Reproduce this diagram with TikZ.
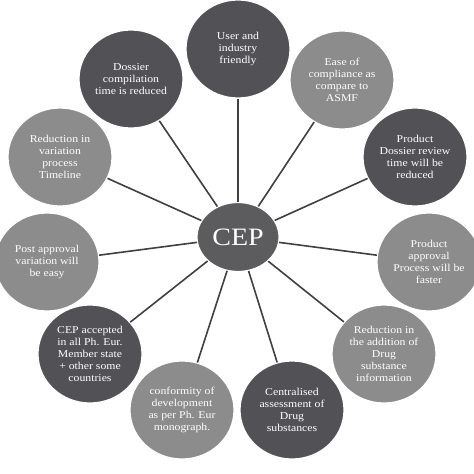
\documentclass[tikz,border=0pt]{standalone}
\usepackage{fontspec}
\setmainfont{Liberation Serif}[FakeStretch=1.12]
\usetikzlibrary{shapes.geometric}
\definecolor{darkc}{RGB}{82,82,86}
\definecolor{lightc}{RGB}{140,140,140}
\definecolor{cepc}{RGB}{92,92,95}
\definecolor{linec}{RGB}{64,64,64}
\tikzset{
  bubble/.style={ellipse, minimum width=104pt, minimum height=98pt, inner sep=0pt,
    draw=white, line width=1.2pt, text=white, align=center,
    font=\fontsize{10.5}{12}\selectfont},
  darkb/.style={bubble, fill=darkc},
  lightb/.style={bubble, fill=lightc},
  spoke/.style={draw=linec, line width=1.6pt}
}
\begin{document}
\begin{tikzpicture}[x=1pt,y=-1pt]
\useasboundingbox (0,0) rectangle (474,474);
\clip (0,0) rectangle (474,474);
\fill[white] (0,0) rectangle (474,474);
\node[ellipse, minimum width=82pt, minimum height=69pt, inner sep=0pt, fill=cepc,
  draw=white, line width=1.2pt, text=white, font=\fontsize{25}{28}\selectfont] (cep) at (238,237) {CEP};
\node[darkb]  (n1)  at (238,49)  {User and\\industry\\friendly};
\node[lightb] (n2)  at (342,80)  {Ease of\\compliance as\\compare to\\ASMF};
\node[darkb]  (n3)  at (415,157) {Product\\Dossier review\\time will be\\reduced};
\node[lightb] (n4)  at (429,262) {Product\\approval\\Process will be\\faster};
\node[lightb] (n5)  at (384,354) {Reduction in\\the addition of\\Drug\\substance\\information};
\node[darkb]  (n6)  at (292,410) {Centralised\\assessment of\\Drug\\substances};
\node[lightb] (n7)  at (182,410) {conformity of\\development\\as per Ph. Eur\\monograph.};
\node[darkb]  (n8)  at (90,354)  {CEP accepted\\in all Ph. Eur.\\Member state\\+ other some\\countries};
\node[lightb] (n9)  at (47,262)  {Post approval\\variation will\\be easy};
\node[lightb] (n10) at (60,157)  {Reduction in\\variation\\process\\Timeline};
\node[darkb]  (n11) at (131,79)  {Dossier\\compilation\\time is reduced};
\foreach \n in {n1,n2,n3,n4,n5,n6,n7,n8,n9,n10,n11}
  \draw[spoke] (cep) -- (\n);
\end{tikzpicture}
\end{document}
